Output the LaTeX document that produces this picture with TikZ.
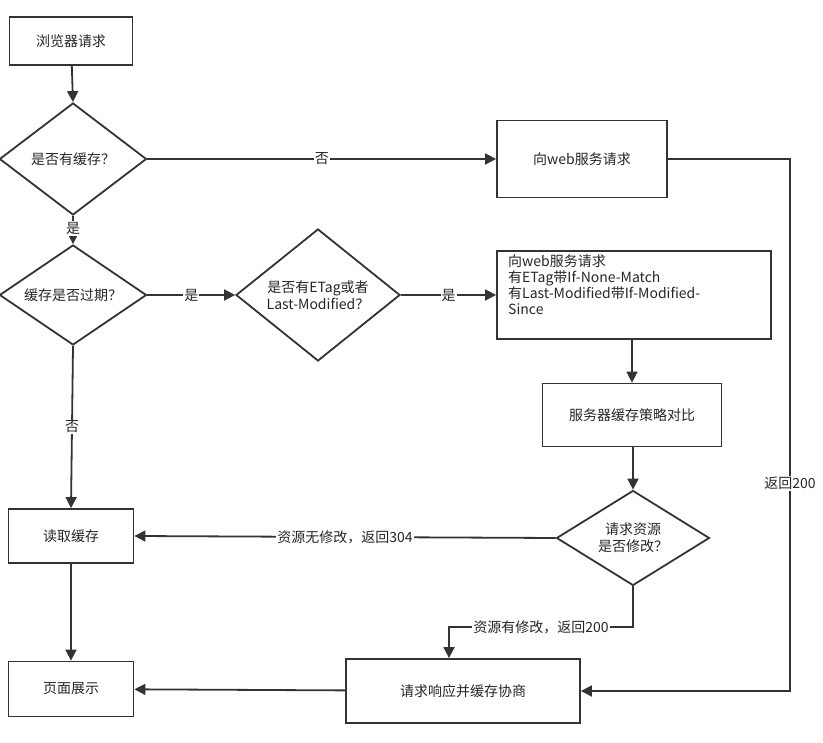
\documentclass[tikz,border=0pt]{standalone}
\usepackage{fontspec}
\setmainfont{Noto Sans CJK SC}
\usetikzlibrary{shapes.geometric,arrows.meta}
\begin{document}
\begin{tikzpicture}[x=1pt,y=-1pt,
  every node/.style={font=\fontsize{14}{17}\selectfont, text=black!85},
  box/.style={draw=black!80, line width=1.8pt, minimum height=50pt, inner sep=0},
  dia/.style={draw=black!80, line width=1.8pt, shape=diamond, inner sep=0},
  ar/.style={draw=black!80, line width=1.8pt, -{Triangle[length=11pt,width=11pt]}},
  lab/.style={fill=white, inner sep=1pt}]
\useasboundingbox (0,0) rectangle (823,743);
\node[box, minimum width=123pt, minimum height=48pt] (a) at (71,41) {浏览器请求};
\node[dia, minimum width=147pt, minimum height=112pt] (d1) at (73,159) {};
\node at (d1) {是否有缓存？};
\node[box, minimum width=170pt, minimum height=77pt] (w) at (582,159) {向web服务请求};
\node[dia, minimum width=147pt, minimum height=100pt] (d2) at (73,295) {};
\node at (d2) {缓存是否过期？};
\node[dia, minimum width=164pt, minimum height=132pt] (d3) at (318,295) {};
\node[align=center] at (d3) {是否有ETag或者\\Last-Modified？};
\node[box, minimum width=274pt, minimum height=88pt] (b) at (634,295) {};
\node[align=left, anchor=north west, inner sep=0, font=\fontsize{14}{16}\selectfont] at (508,255) {向web服务请求\\有ETag带If-None-Match\\有Last-Modified带If-Modified-\\Since};
\node[box, minimum width=179pt, minimum height=63pt] (s) at (632,415) {服务器缓存策略对比};
\node[dia, minimum width=153pt, minimum height=95pt] (d4) at (633,538) {};
\node[align=center] at (d4) {请求资源\\是否修改？};
\node[box, minimum width=125pt, minimum height=54pt] (r) at (71,536) {读取缓存};
\node[box, minimum width=125pt, minimum height=55pt] (p) at (71,689) {页面展示};
\node[box, minimum width=234pt, minimum height=64pt] (q) at (463,691) {请求响应并缓存协商};
\coordinate (c1) at (790,159);
\coordinate (c2) at (790,691);
\coordinate (e1) at (633,627);
\coordinate (e2) at (449,627);

\draw[ar] (a) -- (d1.north);
\draw[ar] (d1.east) -- node[lab]{否} (w.west);
\draw[ar] (d1.south) -- node[lab, pos=0.45]{是} (d2.north);
\draw[ar] (d2.east) -- node[lab]{是} (d3.west);
\draw[ar] (d3.east) -- node[lab]{是} (b.west);
\draw[ar] (b.south -| s) -- (s.north);
\draw[ar] (s.south -| d4) -- (d4.north);
\draw[ar] (d4.west) -- node[lab, pos=0.5]{资源无修改，返回304} (r.east);
\draw[ar] (d2.south) -- node[lab]{否} (r.north);
\draw[ar] (r) -- (p);
\draw[ar] (q) -- (p);
\draw[ar] (w.east) -- (c1) -- node[lab, pos=0.61]{返回200} (c2) -- (q.east);
\draw[ar] (d4.south) -- (e1) -- node[lab, pos=0.5]{资源有修改，返回200} (e2) -- (e2 |- q.north);
\end{tikzpicture}
\end{document}
